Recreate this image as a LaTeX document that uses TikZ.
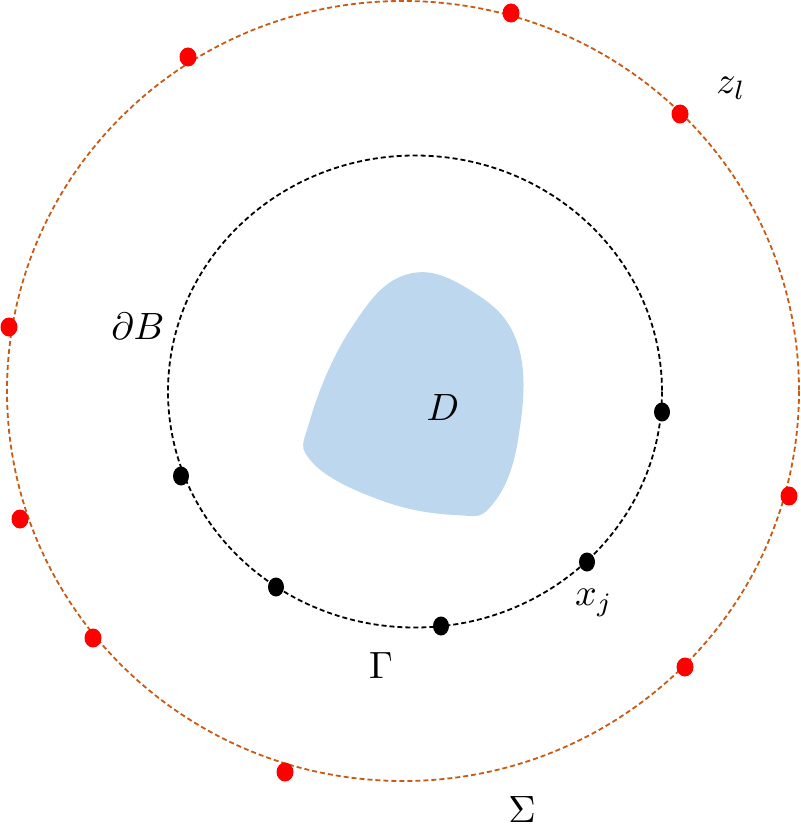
\documentclass[tikz,border=0pt]{standalone}
\begin{document}
\begin{tikzpicture}[x=1pt,y=-1pt,
 reddot/.style={fill=red,draw=none},
 blackdot/.style={fill=black,draw=none},
 lbl/.style={scale=3.8}]
\useasboundingbox (0,0) rectangle (800,832);
\fill[fill={rgb,255:red,189;green,215;blue,238}] plot[smooth cycle,tension=0.7] coordinates {(405,275) (470,290) (518,345) (518,440) (492,505) (455,515) (380,500) (312,462) (310,420) (350,330)};
\draw[dash pattern=on 5pt off 3pt,line width=1.8pt,color={rgb,255:red,200;green,90;blue,20}] (403,391) ellipse (396 and 390);
\draw[dash pattern=on 5pt off 3pt,line width=1.8pt] (415,391.5) ellipse (247 and 236);
\foreach \p in {(511,13),(188,57),(680,114),(9,327),(789,496),(20,519),(93,638),(685,667),(285,772)}
  \fill[reddot] \p ellipse (8.5 and 9.5);
\foreach \p in {(181,476),(662,412),(587,562),(276,587),(441,626)}
  \fill[blackdot] \p ellipse (8 and 9.5);
\node[lbl] (zl) at (731,88) {$z_l$};
\node[lbl] (dB) at (138,326) {$\partial B$};
\node[lbl] (D) at (443,408) {$D$};
\node[lbl] (xj) at (594,603) {$x_j$};
\node[lbl] (G) at (381,666) {$\Gamma$};
\node[lbl] (S) at (522,810) {$\Sigma$};
\end{tikzpicture}
\end{document}
